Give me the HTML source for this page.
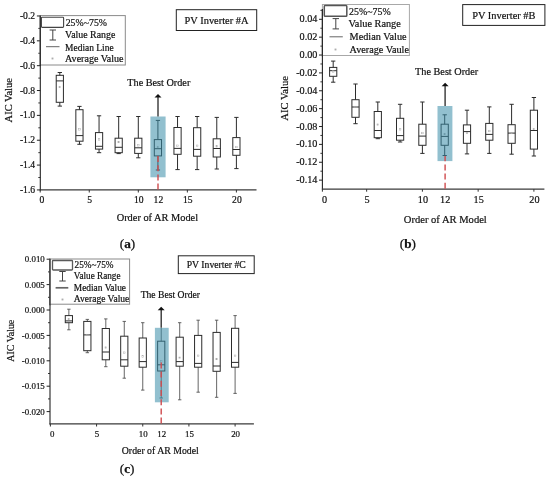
<!DOCTYPE html>
<html><head><meta charset="utf-8"><title>AIC Value vs Order of AR Model</title>
<style>
html,body{margin:0;padding:0;background:#fff;}
body{width:550px;height:483px;overflow:hidden;}
svg{display:block;font-family:"Liberation Serif", "Times New Roman", serif;}
</style></head><body>
<svg width="550" height="483" viewBox="0 0 550 483">
<rect x="0" y="0" width="550" height="483" fill="#fff"/>
<line x1="40.30" y1="15.48" x2="40.30" y2="190.40" stroke="#222" stroke-width="1.1" />
<line x1="39.80" y1="189.90" x2="256.50" y2="189.90" stroke="#3a3a3a" stroke-width="1.1" />
<line x1="36.90" y1="15.98" x2="40.30" y2="15.98" stroke="#222" stroke-width="1" />
<text x="35.10" y="19.08" font-size="9.6" text-anchor="end" fill="#111" stroke="#111" stroke-width="0.2" >-0.2</text>
<line x1="36.90" y1="40.83" x2="40.30" y2="40.83" stroke="#222" stroke-width="1" />
<text x="35.10" y="43.93" font-size="9.6" text-anchor="end" fill="#111" stroke="#111" stroke-width="0.2" >-0.4</text>
<line x1="36.90" y1="65.68" x2="40.30" y2="65.68" stroke="#222" stroke-width="1" />
<text x="35.10" y="68.78" font-size="9.6" text-anchor="end" fill="#111" stroke="#111" stroke-width="0.2" >-0.6</text>
<line x1="36.90" y1="90.53" x2="40.30" y2="90.53" stroke="#222" stroke-width="1" />
<text x="35.10" y="93.63" font-size="9.6" text-anchor="end" fill="#111" stroke="#111" stroke-width="0.2" >-0.8</text>
<line x1="36.90" y1="115.38" x2="40.30" y2="115.38" stroke="#222" stroke-width="1" />
<text x="35.10" y="118.48" font-size="9.6" text-anchor="end" fill="#111" stroke="#111" stroke-width="0.2" >-1.0</text>
<line x1="36.90" y1="140.23" x2="40.30" y2="140.23" stroke="#222" stroke-width="1" />
<text x="35.10" y="143.33" font-size="9.6" text-anchor="end" fill="#111" stroke="#111" stroke-width="0.2" >-1.2</text>
<line x1="36.90" y1="165.08" x2="40.30" y2="165.08" stroke="#222" stroke-width="1" />
<text x="35.10" y="168.18" font-size="9.6" text-anchor="end" fill="#111" stroke="#111" stroke-width="0.2" >-1.4</text>
<line x1="36.90" y1="189.93" x2="40.30" y2="189.93" stroke="#222" stroke-width="1" />
<text x="35.10" y="193.03" font-size="9.6" text-anchor="end" fill="#111" stroke="#111" stroke-width="0.2" >-1.6</text>
<line x1="38.30" y1="28.40" x2="40.30" y2="28.40" stroke="#222" stroke-width="0.9" />
<line x1="38.30" y1="53.25" x2="40.30" y2="53.25" stroke="#222" stroke-width="0.9" />
<line x1="38.30" y1="78.10" x2="40.30" y2="78.10" stroke="#222" stroke-width="0.9" />
<line x1="38.30" y1="102.95" x2="40.30" y2="102.95" stroke="#222" stroke-width="0.9" />
<line x1="38.30" y1="127.81" x2="40.30" y2="127.81" stroke="#222" stroke-width="0.9" />
<line x1="38.30" y1="152.66" x2="40.30" y2="152.66" stroke="#222" stroke-width="0.9" />
<line x1="38.30" y1="177.50" x2="40.30" y2="177.50" stroke="#222" stroke-width="0.9" />
<line x1="40.20" y1="189.90" x2="40.20" y2="192.50" stroke="#333" stroke-width="1" />
<text x="41.90" y="202.90" font-size="9.6" text-anchor="middle" fill="#111" stroke="#111" stroke-width="0.2" >0</text>
<line x1="89.25" y1="189.90" x2="89.25" y2="192.50" stroke="#333" stroke-width="1" />
<text x="89.75" y="202.90" font-size="9.6" text-anchor="middle" fill="#111" stroke="#111" stroke-width="0.2" >5</text>
<line x1="138.30" y1="189.90" x2="138.30" y2="192.50" stroke="#333" stroke-width="1" />
<text x="138.80" y="202.90" font-size="9.6" text-anchor="middle" fill="#111" stroke="#111" stroke-width="0.2" >10</text>
<text x="158.42" y="202.90" font-size="9.6" text-anchor="middle" fill="#111" stroke="#111" stroke-width="0.2" >12</text>
<line x1="187.35" y1="189.90" x2="187.35" y2="192.50" stroke="#333" stroke-width="1" />
<text x="187.85" y="202.90" font-size="9.6" text-anchor="middle" fill="#111" stroke="#111" stroke-width="0.2" >15</text>
<line x1="236.40" y1="189.90" x2="236.40" y2="192.50" stroke="#333" stroke-width="1" />
<text x="236.90" y="202.90" font-size="9.6" text-anchor="middle" fill="#111" stroke="#111" stroke-width="0.2" >20</text>
<line x1="59.82" y1="72.50" x2="59.82" y2="75.30" stroke="#2c2c2c" stroke-width="1.0" />
<line x1="59.82" y1="102.30" x2="59.82" y2="106.10" stroke="#2c2c2c" stroke-width="1.0" />
<line x1="57.67" y1="72.50" x2="61.97" y2="72.50" stroke="#2c2c2c" stroke-width="1.0" />
<line x1="57.67" y1="106.10" x2="61.97" y2="106.10" stroke="#2c2c2c" stroke-width="1.0" />
<rect x="56.22" y="75.30" width="7.20" height="27.00" fill="none" stroke="#2c2c2c" stroke-width="1.0" />
<line x1="56.22" y1="80.90" x2="63.42" y2="80.90" stroke="#2c2c2c" stroke-width="1.0" />
<rect x="59.02" y="86.20" width="1.60" height="1.60" fill="none" stroke="#a8a8a8" stroke-width="0.45" />
<line x1="79.44" y1="106.40" x2="79.44" y2="109.70" stroke="#2c2c2c" stroke-width="1.0" />
<line x1="79.44" y1="141.20" x2="79.44" y2="144.30" stroke="#2c2c2c" stroke-width="1.0" />
<line x1="77.29" y1="106.40" x2="81.59" y2="106.40" stroke="#2c2c2c" stroke-width="1.0" />
<line x1="77.29" y1="144.30" x2="81.59" y2="144.30" stroke="#2c2c2c" stroke-width="1.0" />
<rect x="75.84" y="109.70" width="7.20" height="31.50" fill="none" stroke="#2c2c2c" stroke-width="1.0" />
<line x1="75.84" y1="135.60" x2="83.04" y2="135.60" stroke="#2c2c2c" stroke-width="1.0" />
<rect x="78.64" y="128.50" width="1.60" height="1.60" fill="none" stroke="#a8a8a8" stroke-width="0.45" />
<line x1="99.06" y1="115.80" x2="99.06" y2="132.60" stroke="#2c2c2c" stroke-width="1.0" />
<line x1="99.06" y1="149.10" x2="99.06" y2="152.70" stroke="#2c2c2c" stroke-width="1.0" />
<line x1="96.91" y1="115.80" x2="101.21" y2="115.80" stroke="#2c2c2c" stroke-width="1.0" />
<line x1="96.91" y1="152.70" x2="101.21" y2="152.70" stroke="#2c2c2c" stroke-width="1.0" />
<rect x="95.46" y="132.60" width="7.20" height="16.50" fill="none" stroke="#2c2c2c" stroke-width="1.0" />
<line x1="95.46" y1="146.30" x2="102.66" y2="146.30" stroke="#2c2c2c" stroke-width="1.0" />
<rect x="98.26" y="138.60" width="1.60" height="1.60" fill="none" stroke="#a8a8a8" stroke-width="0.45" />
<line x1="118.68" y1="116.50" x2="118.68" y2="138.20" stroke="#2c2c2c" stroke-width="1.0" />
<line x1="118.68" y1="152.70" x2="118.68" y2="153.60" stroke="#2c2c2c" stroke-width="1.0" />
<line x1="116.53" y1="116.50" x2="120.83" y2="116.50" stroke="#2c2c2c" stroke-width="1.0" />
<line x1="116.53" y1="153.60" x2="120.83" y2="153.60" stroke="#2c2c2c" stroke-width="1.0" />
<rect x="115.08" y="138.20" width="7.20" height="14.50" fill="none" stroke="#2c2c2c" stroke-width="1.0" />
<line x1="115.08" y1="147.30" x2="122.28" y2="147.30" stroke="#2c2c2c" stroke-width="1.0" />
<rect x="117.88" y="141.20" width="1.60" height="1.60" fill="none" stroke="#a8a8a8" stroke-width="0.45" />
<line x1="138.30" y1="116.50" x2="138.30" y2="138.20" stroke="#2c2c2c" stroke-width="1.0" />
<line x1="138.30" y1="153.40" x2="138.30" y2="157.80" stroke="#2c2c2c" stroke-width="1.0" />
<line x1="136.15" y1="116.50" x2="140.45" y2="116.50" stroke="#2c2c2c" stroke-width="1.0" />
<line x1="136.15" y1="157.80" x2="140.45" y2="157.80" stroke="#2c2c2c" stroke-width="1.0" />
<rect x="134.70" y="138.20" width="7.20" height="15.20" fill="none" stroke="#2c2c2c" stroke-width="1.0" />
<line x1="134.70" y1="147.80" x2="141.90" y2="147.80" stroke="#2c2c2c" stroke-width="1.0" />
<rect x="137.50" y="144.50" width="1.60" height="1.60" fill="none" stroke="#a8a8a8" stroke-width="0.45" />
<line x1="157.92" y1="120.40" x2="157.92" y2="139.60" stroke="#2c2c2c" stroke-width="1.0" />
<line x1="157.92" y1="155.90" x2="157.92" y2="170.00" stroke="#2c2c2c" stroke-width="1.0" />
<line x1="155.77" y1="120.40" x2="160.07" y2="120.40" stroke="#2c2c2c" stroke-width="1.0" />
<line x1="155.77" y1="170.00" x2="160.07" y2="170.00" stroke="#2c2c2c" stroke-width="1.0" />
<rect x="154.32" y="139.60" width="7.20" height="16.30" fill="none" stroke="#2c2c2c" stroke-width="1.0" />
<line x1="154.32" y1="148.70" x2="161.52" y2="148.70" stroke="#2c2c2c" stroke-width="1.0" />
<rect x="157.12" y="146.20" width="1.60" height="1.60" fill="none" stroke="#a8a8a8" stroke-width="0.45" />
<line x1="177.54" y1="116.50" x2="177.54" y2="127.50" stroke="#2c2c2c" stroke-width="1.0" />
<line x1="177.54" y1="154.30" x2="177.54" y2="169.60" stroke="#2c2c2c" stroke-width="1.0" />
<line x1="175.39" y1="116.50" x2="179.69" y2="116.50" stroke="#2c2c2c" stroke-width="1.0" />
<line x1="175.39" y1="169.60" x2="179.69" y2="169.60" stroke="#2c2c2c" stroke-width="1.0" />
<rect x="173.94" y="127.50" width="7.20" height="26.80" fill="none" stroke="#2c2c2c" stroke-width="1.0" />
<line x1="173.94" y1="148.40" x2="181.14" y2="148.40" stroke="#2c2c2c" stroke-width="1.0" />
<rect x="176.74" y="145.00" width="1.60" height="1.60" fill="none" stroke="#a8a8a8" stroke-width="0.45" />
<line x1="197.16" y1="116.50" x2="197.16" y2="127.70" stroke="#2c2c2c" stroke-width="1.0" />
<line x1="197.16" y1="156.20" x2="197.16" y2="169.60" stroke="#2c2c2c" stroke-width="1.0" />
<line x1="195.01" y1="116.50" x2="199.31" y2="116.50" stroke="#2c2c2c" stroke-width="1.0" />
<line x1="195.01" y1="169.60" x2="199.31" y2="169.60" stroke="#2c2c2c" stroke-width="1.0" />
<rect x="193.56" y="127.70" width="7.20" height="28.50" fill="none" stroke="#2c2c2c" stroke-width="1.0" />
<line x1="193.56" y1="149.40" x2="200.76" y2="149.40" stroke="#2c2c2c" stroke-width="1.0" />
<rect x="196.36" y="145.00" width="1.60" height="1.60" fill="none" stroke="#a8a8a8" stroke-width="0.45" />
<line x1="216.78" y1="117.40" x2="216.78" y2="138.80" stroke="#2c2c2c" stroke-width="1.0" />
<line x1="216.78" y1="157.00" x2="216.78" y2="169.00" stroke="#2c2c2c" stroke-width="1.0" />
<line x1="214.63" y1="117.40" x2="218.93" y2="117.40" stroke="#2c2c2c" stroke-width="1.0" />
<line x1="214.63" y1="169.00" x2="218.93" y2="169.00" stroke="#2c2c2c" stroke-width="1.0" />
<rect x="213.18" y="138.80" width="7.20" height="18.20" fill="none" stroke="#2c2c2c" stroke-width="1.0" />
<line x1="213.18" y1="148.50" x2="220.38" y2="148.50" stroke="#2c2c2c" stroke-width="1.0" />
<rect x="215.98" y="145.50" width="1.60" height="1.60" fill="none" stroke="#a8a8a8" stroke-width="0.45" />
<line x1="236.40" y1="117.40" x2="236.40" y2="137.60" stroke="#2c2c2c" stroke-width="1.0" />
<line x1="236.40" y1="155.30" x2="236.40" y2="168.60" stroke="#2c2c2c" stroke-width="1.0" />
<line x1="234.25" y1="117.40" x2="238.55" y2="117.40" stroke="#2c2c2c" stroke-width="1.0" />
<line x1="234.25" y1="168.60" x2="238.55" y2="168.60" stroke="#2c2c2c" stroke-width="1.0" />
<rect x="232.80" y="137.60" width="7.20" height="17.70" fill="none" stroke="#2c2c2c" stroke-width="1.0" />
<line x1="232.80" y1="149.50" x2="240.00" y2="149.50" stroke="#2c2c2c" stroke-width="1.0" />
<rect x="235.60" y="146.20" width="1.60" height="1.60" fill="none" stroke="#a8a8a8" stroke-width="0.45" />
<rect x="150.40" y="116.50" width="15.20" height="60.80" fill="rgb(57,140,168)" fill-opacity="0.55"/>
<line x1="158.00" y1="189.60" x2="158.00" y2="156.00" stroke="#cf4b4e" stroke-width="1.4" stroke-dasharray="6 3.2"/>
<line x1="158.00" y1="95.90" x2="158.00" y2="116.50" stroke="#2e2e2e" stroke-width="1.35" />
<polygon points="158.00,93.90 154.50,97.50 161.50,97.50" fill="#111"/>
<text x="127.30" y="86.00" font-size="10.2" text-anchor="start" fill="#111" stroke="#111" stroke-width="0.2" textLength="63" lengthAdjust="spacingAndGlyphs">The Best Order</text>
<rect x="176.30" y="9.70" width="80.40" height="20.80" fill="#fff" stroke="#222" stroke-width="1" />
<text x="216.50" y="23.60" font-size="10.4" text-anchor="middle" fill="#111" stroke="#111" stroke-width="0.2" >PV Inverter #A</text>
<rect x="40.30" y="15.60" width="85.00" height="49.40" fill="#fff" stroke="#8a8a8a" stroke-width="1" />
<line x1="40.30" y1="15.60" x2="40.30" y2="66.00" stroke="#222" stroke-width="1.1" />
<rect x="41.40" y="17.20" width="22.20" height="10.20" fill="#fff" stroke="#444" stroke-width="1.1" rx="0.8"/>
<line x1="52.80" y1="30.00" x2="52.80" y2="40.00" stroke="#444" stroke-width="1" />
<line x1="49.60" y1="30.00" x2="56.00" y2="30.00" stroke="#444" stroke-width="1" />
<line x1="49.60" y1="40.00" x2="56.00" y2="40.00" stroke="#444" stroke-width="1" />
<line x1="46.00" y1="46.70" x2="59.50" y2="46.70" stroke="#666" stroke-width="1" />
<rect x="51.80" y="57.80" width="1.40" height="1.40" fill="none" stroke="#aaa" stroke-width="0.45" />
<text x="65.70" y="25.50" font-size="9.7" text-anchor="start" fill="#111" stroke="#111" stroke-width="0.2" textLength="41.3" lengthAdjust="spacingAndGlyphs">25%~75%</text>
<text x="65.10" y="38.30" font-size="9.7" text-anchor="start" fill="#111" stroke="#111" stroke-width="0.2" textLength="50.2" lengthAdjust="spacingAndGlyphs">Value Range</text>
<text x="65.10" y="51.20" font-size="9.7" text-anchor="start" fill="#111" stroke="#111" stroke-width="0.2" textLength="48.5" lengthAdjust="spacingAndGlyphs">Median Line</text>
<text x="65.10" y="62.40" font-size="9.7" text-anchor="start" fill="#111" stroke="#111" stroke-width="0.2" textLength="58.5" lengthAdjust="spacingAndGlyphs">Average Value</text>
<text transform="translate(12.10,100.30) rotate(-90)" font-size="10.3" text-anchor="middle" fill="#111" stroke="#111" stroke-width="0.2" textLength="44.2" lengthAdjust="spacingAndGlyphs">AIC Value</text>
<text x="116.70" y="220.90" font-size="10.3" text-anchor="start" fill="#111" stroke="#111" stroke-width="0.2" textLength="81.4" lengthAdjust="spacingAndGlyphs">Order of AR Model</text>
<text x="119.80" y="248.30" font-size="13.2" fill="#111" stroke="#111" stroke-width="0.25" font-family='"Liberation Serif", serif'>(<tspan font-weight="bold">a</tspan>)</text>
<line x1="322.40" y1="8.90" x2="322.40" y2="189.60" stroke="#222" stroke-width="1.1" />
<line x1="321.90" y1="189.10" x2="544.40" y2="189.10" stroke="#3a3a3a" stroke-width="1.1" />
<line x1="319.00" y1="19.30" x2="322.40" y2="19.30" stroke="#222" stroke-width="1" />
<text x="317.40" y="22.40" font-size="10.2" text-anchor="end" fill="#111" stroke="#111" stroke-width="0.2" >0.04</text>
<line x1="319.00" y1="37.17" x2="322.40" y2="37.17" stroke="#222" stroke-width="1" />
<text x="317.40" y="40.27" font-size="10.2" text-anchor="end" fill="#111" stroke="#111" stroke-width="0.2" >0.02</text>
<line x1="319.00" y1="55.04" x2="322.40" y2="55.04" stroke="#222" stroke-width="1" />
<text x="317.40" y="58.14" font-size="10.2" text-anchor="end" fill="#111" stroke="#111" stroke-width="0.2" >0.00</text>
<line x1="319.00" y1="72.91" x2="322.40" y2="72.91" stroke="#222" stroke-width="1" />
<text x="317.40" y="76.01" font-size="10.2" text-anchor="end" fill="#111" stroke="#111" stroke-width="0.2" >-0.02</text>
<line x1="319.00" y1="90.78" x2="322.40" y2="90.78" stroke="#222" stroke-width="1" />
<text x="317.40" y="93.88" font-size="10.2" text-anchor="end" fill="#111" stroke="#111" stroke-width="0.2" >-0.04</text>
<line x1="319.00" y1="108.65" x2="322.40" y2="108.65" stroke="#222" stroke-width="1" />
<text x="317.40" y="111.75" font-size="10.2" text-anchor="end" fill="#111" stroke="#111" stroke-width="0.2" >-0.06</text>
<line x1="319.00" y1="126.52" x2="322.40" y2="126.52" stroke="#222" stroke-width="1" />
<text x="317.40" y="129.62" font-size="10.2" text-anchor="end" fill="#111" stroke="#111" stroke-width="0.2" >-0.08</text>
<line x1="319.00" y1="144.39" x2="322.40" y2="144.39" stroke="#222" stroke-width="1" />
<text x="317.40" y="147.49" font-size="10.2" text-anchor="end" fill="#111" stroke="#111" stroke-width="0.2" >-0.10</text>
<line x1="319.00" y1="162.26" x2="322.40" y2="162.26" stroke="#222" stroke-width="1" />
<text x="317.40" y="165.36" font-size="10.2" text-anchor="end" fill="#111" stroke="#111" stroke-width="0.2" >-0.12</text>
<line x1="319.00" y1="180.13" x2="322.40" y2="180.13" stroke="#222" stroke-width="1" />
<text x="317.40" y="183.23" font-size="10.2" text-anchor="end" fill="#111" stroke="#111" stroke-width="0.2" >-0.14</text>
<line x1="320.40" y1="10.36" x2="322.40" y2="10.36" stroke="#222" stroke-width="0.9" />
<line x1="320.40" y1="28.24" x2="322.40" y2="28.24" stroke="#222" stroke-width="0.9" />
<line x1="320.40" y1="46.11" x2="322.40" y2="46.11" stroke="#222" stroke-width="0.9" />
<line x1="320.40" y1="63.98" x2="322.40" y2="63.98" stroke="#222" stroke-width="0.9" />
<line x1="320.40" y1="81.85" x2="322.40" y2="81.85" stroke="#222" stroke-width="0.9" />
<line x1="320.40" y1="99.72" x2="322.40" y2="99.72" stroke="#222" stroke-width="0.9" />
<line x1="320.40" y1="117.59" x2="322.40" y2="117.59" stroke="#222" stroke-width="0.9" />
<line x1="320.40" y1="135.46" x2="322.40" y2="135.46" stroke="#222" stroke-width="0.9" />
<line x1="320.40" y1="153.33" x2="322.40" y2="153.33" stroke="#222" stroke-width="0.9" />
<line x1="320.40" y1="171.20" x2="322.40" y2="171.20" stroke="#222" stroke-width="0.9" />
<line x1="322.40" y1="189.10" x2="322.40" y2="191.70" stroke="#333" stroke-width="1" />
<text x="324.50" y="203.00" font-size="10.2" text-anchor="middle" fill="#111" stroke="#111" stroke-width="0.2" >0</text>
<line x1="366.65" y1="189.10" x2="366.65" y2="191.70" stroke="#333" stroke-width="1" />
<text x="367.15" y="203.00" font-size="10.2" text-anchor="middle" fill="#111" stroke="#111" stroke-width="0.2" >5</text>
<line x1="422.40" y1="189.10" x2="422.40" y2="191.70" stroke="#333" stroke-width="1" />
<text x="422.90" y="203.00" font-size="10.2" text-anchor="middle" fill="#111" stroke="#111" stroke-width="0.2" >10</text>
<text x="445.20" y="203.00" font-size="10.2" text-anchor="middle" fill="#111" stroke="#111" stroke-width="0.2" >12</text>
<line x1="478.15" y1="189.10" x2="478.15" y2="191.70" stroke="#333" stroke-width="1" />
<text x="478.65" y="203.00" font-size="10.2" text-anchor="middle" fill="#111" stroke="#111" stroke-width="0.2" >15</text>
<line x1="533.90" y1="189.10" x2="533.90" y2="191.70" stroke="#333" stroke-width="1" />
<text x="534.40" y="203.00" font-size="10.2" text-anchor="middle" fill="#111" stroke="#111" stroke-width="0.2" >20</text>
<line x1="333.20" y1="61.10" x2="333.20" y2="67.40" stroke="#2c2c2c" stroke-width="1.0" />
<line x1="333.20" y1="76.30" x2="333.20" y2="82.20" stroke="#2c2c2c" stroke-width="1.0" />
<line x1="331.05" y1="61.10" x2="335.35" y2="61.10" stroke="#2c2c2c" stroke-width="1.0" />
<line x1="331.05" y1="82.20" x2="335.35" y2="82.20" stroke="#2c2c2c" stroke-width="1.0" />
<rect x="329.60" y="67.40" width="7.20" height="8.90" fill="none" stroke="#2c2c2c" stroke-width="1.0" />
<line x1="329.60" y1="70.70" x2="336.80" y2="70.70" stroke="#2c2c2c" stroke-width="1.0" />
<rect x="332.40" y="70.70" width="1.60" height="1.60" fill="none" stroke="#a8a8a8" stroke-width="0.45" />
<line x1="355.50" y1="84.00" x2="355.50" y2="99.70" stroke="#2c2c2c" stroke-width="1.0" />
<line x1="355.50" y1="117.30" x2="355.50" y2="123.70" stroke="#2c2c2c" stroke-width="1.0" />
<line x1="353.35" y1="84.00" x2="357.65" y2="84.00" stroke="#2c2c2c" stroke-width="1.0" />
<line x1="353.35" y1="123.70" x2="357.65" y2="123.70" stroke="#2c2c2c" stroke-width="1.0" />
<rect x="351.90" y="99.70" width="7.20" height="17.60" fill="none" stroke="#2c2c2c" stroke-width="1.0" />
<line x1="351.90" y1="107.00" x2="359.10" y2="107.00" stroke="#2c2c2c" stroke-width="1.0" />
<rect x="354.70" y="106.20" width="1.60" height="1.60" fill="none" stroke="#a8a8a8" stroke-width="0.45" />
<line x1="377.80" y1="102.00" x2="377.80" y2="111.50" stroke="#2c2c2c" stroke-width="1.0" />
<line x1="377.80" y1="137.70" x2="377.80" y2="138.70" stroke="#2c2c2c" stroke-width="1.0" />
<line x1="375.65" y1="102.00" x2="379.95" y2="102.00" stroke="#2c2c2c" stroke-width="1.0" />
<line x1="375.65" y1="138.70" x2="379.95" y2="138.70" stroke="#2c2c2c" stroke-width="1.0" />
<rect x="374.20" y="111.50" width="7.20" height="26.20" fill="none" stroke="#2c2c2c" stroke-width="1.0" />
<line x1="374.20" y1="130.50" x2="381.40" y2="130.50" stroke="#2c2c2c" stroke-width="1.0" />
<rect x="377.00" y="123.90" width="1.60" height="1.60" fill="none" stroke="#a8a8a8" stroke-width="0.45" />
<line x1="400.10" y1="104.30" x2="400.10" y2="118.30" stroke="#2c2c2c" stroke-width="1.0" />
<line x1="400.10" y1="140.20" x2="400.10" y2="142.00" stroke="#2c2c2c" stroke-width="1.0" />
<line x1="397.95" y1="104.30" x2="402.25" y2="104.30" stroke="#2c2c2c" stroke-width="1.0" />
<line x1="397.95" y1="142.00" x2="402.25" y2="142.00" stroke="#2c2c2c" stroke-width="1.0" />
<rect x="396.50" y="118.30" width="7.20" height="21.90" fill="none" stroke="#2c2c2c" stroke-width="1.0" />
<line x1="396.50" y1="135.60" x2="403.70" y2="135.60" stroke="#2c2c2c" stroke-width="1.0" />
<rect x="399.30" y="128.50" width="1.60" height="1.60" fill="none" stroke="#a8a8a8" stroke-width="0.45" />
<line x1="422.40" y1="102.00" x2="422.40" y2="124.20" stroke="#2c2c2c" stroke-width="1.0" />
<line x1="422.40" y1="145.30" x2="422.40" y2="153.40" stroke="#2c2c2c" stroke-width="1.0" />
<line x1="420.25" y1="102.00" x2="424.55" y2="102.00" stroke="#2c2c2c" stroke-width="1.0" />
<line x1="420.25" y1="153.40" x2="424.55" y2="153.40" stroke="#2c2c2c" stroke-width="1.0" />
<rect x="418.80" y="124.20" width="7.20" height="21.10" fill="none" stroke="#2c2c2c" stroke-width="1.0" />
<line x1="418.80" y1="136.10" x2="426.00" y2="136.10" stroke="#2c2c2c" stroke-width="1.0" />
<rect x="421.60" y="132.20" width="1.60" height="1.60" fill="none" stroke="#a8a8a8" stroke-width="0.45" />
<line x1="444.70" y1="114.80" x2="444.70" y2="124.20" stroke="#2c2c2c" stroke-width="1.0" />
<line x1="444.70" y1="145.30" x2="444.70" y2="155.50" stroke="#2c2c2c" stroke-width="1.0" />
<line x1="442.55" y1="114.80" x2="446.85" y2="114.80" stroke="#2c2c2c" stroke-width="1.0" />
<line x1="442.55" y1="155.50" x2="446.85" y2="155.50" stroke="#2c2c2c" stroke-width="1.0" />
<rect x="441.10" y="124.20" width="7.20" height="21.10" fill="none" stroke="#2c2c2c" stroke-width="1.0" />
<line x1="441.10" y1="136.40" x2="448.30" y2="136.40" stroke="#2c2c2c" stroke-width="1.0" />
<rect x="443.90" y="133.20" width="1.60" height="1.60" fill="none" stroke="#a8a8a8" stroke-width="0.45" />
<line x1="467.00" y1="110.20" x2="467.00" y2="124.90" stroke="#2c2c2c" stroke-width="1.0" />
<line x1="467.00" y1="143.30" x2="467.00" y2="153.90" stroke="#2c2c2c" stroke-width="1.0" />
<line x1="464.85" y1="110.20" x2="469.15" y2="110.20" stroke="#2c2c2c" stroke-width="1.0" />
<line x1="464.85" y1="153.90" x2="469.15" y2="153.90" stroke="#2c2c2c" stroke-width="1.0" />
<rect x="463.40" y="124.90" width="7.20" height="18.40" fill="none" stroke="#2c2c2c" stroke-width="1.0" />
<line x1="463.40" y1="131.60" x2="470.60" y2="131.60" stroke="#2c2c2c" stroke-width="1.0" />
<rect x="466.20" y="132.20" width="1.60" height="1.60" fill="none" stroke="#a8a8a8" stroke-width="0.45" />
<line x1="489.30" y1="106.90" x2="489.30" y2="123.40" stroke="#2c2c2c" stroke-width="1.0" />
<line x1="489.30" y1="140.20" x2="489.30" y2="153.40" stroke="#2c2c2c" stroke-width="1.0" />
<line x1="487.15" y1="106.90" x2="491.45" y2="106.90" stroke="#2c2c2c" stroke-width="1.0" />
<line x1="487.15" y1="153.40" x2="491.45" y2="153.40" stroke="#2c2c2c" stroke-width="1.0" />
<rect x="485.70" y="123.40" width="7.20" height="16.80" fill="none" stroke="#2c2c2c" stroke-width="1.0" />
<line x1="485.70" y1="134.40" x2="492.90" y2="134.40" stroke="#2c2c2c" stroke-width="1.0" />
<rect x="488.50" y="130.20" width="1.60" height="1.60" fill="none" stroke="#a8a8a8" stroke-width="0.45" />
<line x1="511.60" y1="104.30" x2="511.60" y2="124.70" stroke="#2c2c2c" stroke-width="1.0" />
<line x1="511.60" y1="143.30" x2="511.60" y2="154.20" stroke="#2c2c2c" stroke-width="1.0" />
<line x1="509.45" y1="104.30" x2="513.75" y2="104.30" stroke="#2c2c2c" stroke-width="1.0" />
<line x1="509.45" y1="154.20" x2="513.75" y2="154.20" stroke="#2c2c2c" stroke-width="1.0" />
<rect x="508.00" y="124.70" width="7.20" height="18.60" fill="none" stroke="#2c2c2c" stroke-width="1.0" />
<line x1="508.00" y1="133.10" x2="515.20" y2="133.10" stroke="#2c2c2c" stroke-width="1.0" />
<rect x="510.80" y="132.20" width="1.60" height="1.60" fill="none" stroke="#a8a8a8" stroke-width="0.45" />
<line x1="533.90" y1="97.50" x2="533.90" y2="110.20" stroke="#2c2c2c" stroke-width="1.0" />
<line x1="533.90" y1="149.10" x2="533.90" y2="156.00" stroke="#2c2c2c" stroke-width="1.0" />
<line x1="531.75" y1="97.50" x2="536.05" y2="97.50" stroke="#2c2c2c" stroke-width="1.0" />
<line x1="531.75" y1="156.00" x2="536.05" y2="156.00" stroke="#2c2c2c" stroke-width="1.0" />
<rect x="530.30" y="110.20" width="7.20" height="38.90" fill="none" stroke="#2c2c2c" stroke-width="1.0" />
<line x1="530.30" y1="130.50" x2="537.50" y2="130.50" stroke="#2c2c2c" stroke-width="1.0" />
<rect x="533.10" y="128.20" width="1.60" height="1.60" fill="none" stroke="#a8a8a8" stroke-width="0.45" />
<rect x="437.50" y="106.00" width="14.90" height="55.10" fill="rgb(57,140,168)" fill-opacity="0.55"/>
<line x1="445.10" y1="188.80" x2="445.10" y2="156.00" stroke="#cf4b4e" stroke-width="1.4" stroke-dasharray="6 3.2"/>
<line x1="445.10" y1="84.70" x2="445.10" y2="106.00" stroke="#2e2e2e" stroke-width="1.35" />
<polygon points="445.10,82.70 441.60,86.30 448.60,86.30" fill="#111"/>
<text x="415.00" y="74.90" font-size="10.2" text-anchor="start" fill="#111" stroke="#111" stroke-width="0.2" textLength="63.2" lengthAdjust="spacingAndGlyphs">The Best Order</text>
<rect x="462.70" y="4.60" width="82.20" height="20.80" fill="#fff" stroke="#222" stroke-width="1" />
<text x="503.80" y="18.50" font-size="10.4" text-anchor="middle" fill="#111" stroke="#111" stroke-width="0.2" >PV Inverter #B</text>
<rect x="322.40" y="4.50" width="87.00" height="51.00" fill="#fff" stroke="#a8a8a8" stroke-width="1" />
<line x1="322.40" y1="8.90" x2="322.40" y2="56.50" stroke="#222" stroke-width="1.1" />
<rect x="324.30" y="5.60" width="22.50" height="10.70" fill="#fff" stroke="#555" stroke-width="1.5" rx="0.8"/>
<line x1="335.80" y1="18.60" x2="335.80" y2="28.90" stroke="#444" stroke-width="1" />
<line x1="332.60" y1="18.60" x2="339.00" y2="18.60" stroke="#444" stroke-width="1" />
<line x1="332.60" y1="28.90" x2="339.00" y2="28.90" stroke="#444" stroke-width="1" />
<line x1="329.50" y1="36.80" x2="342.80" y2="36.80" stroke="#666" stroke-width="1" />
<rect x="334.80" y="48.80" width="1.40" height="1.40" fill="none" stroke="#aaa" stroke-width="0.45" />
<text x="349.10" y="15.10" font-size="10.1" text-anchor="start" fill="#111" stroke="#111" stroke-width="0.2" textLength="41.6" lengthAdjust="spacingAndGlyphs">25%~75%</text>
<text x="348.60" y="26.90" font-size="10.1" text-anchor="start" fill="#111" stroke="#111" stroke-width="0.2" textLength="52.2" lengthAdjust="spacingAndGlyphs">Value Range</text>
<text x="349.60" y="39.80" font-size="10.1" text-anchor="start" fill="#111" stroke="#111" stroke-width="0.2" textLength="57.0" lengthAdjust="spacingAndGlyphs">Median Value</text>
<text x="349.60" y="52.80" font-size="10.1" text-anchor="start" fill="#111" stroke="#111" stroke-width="0.2" textLength="59.4" lengthAdjust="spacingAndGlyphs">Average Vaule</text>
<text transform="translate(287.50,98.40) rotate(-90)" font-size="10.3" text-anchor="middle" fill="#111" stroke="#111" stroke-width="0.2" textLength="44.7" lengthAdjust="spacingAndGlyphs">AIC Value</text>
<text x="403.80" y="223.30" font-size="10.5" text-anchor="start" fill="#111" stroke="#111" stroke-width="0.2" textLength="83" lengthAdjust="spacingAndGlyphs">Order of AR Model</text>
<text x="399.80" y="248.30" font-size="13.2" fill="#111" stroke="#111" stroke-width="0.25" font-family='"Liberation Serif", serif'>(<tspan font-weight="bold">b</tspan>)</text>
<line x1="50.00" y1="258.60" x2="50.00" y2="424.40" stroke="#222" stroke-width="1.1" />
<line x1="49.50" y1="423.90" x2="253.90" y2="423.90" stroke="#3a3a3a" stroke-width="1.1" />
<line x1="46.60" y1="259.20" x2="50.00" y2="259.20" stroke="#222" stroke-width="1" />
<text x="44.80" y="262.30" font-size="8.9" text-anchor="end" fill="#111" stroke="#111" stroke-width="0.2" >0.010</text>
<line x1="46.60" y1="284.60" x2="50.00" y2="284.60" stroke="#222" stroke-width="1" />
<text x="44.80" y="287.70" font-size="8.9" text-anchor="end" fill="#111" stroke="#111" stroke-width="0.2" >0.005</text>
<line x1="46.60" y1="310.00" x2="50.00" y2="310.00" stroke="#222" stroke-width="1" />
<text x="44.80" y="313.10" font-size="8.9" text-anchor="end" fill="#111" stroke="#111" stroke-width="0.2" >0.000</text>
<line x1="46.60" y1="335.40" x2="50.00" y2="335.40" stroke="#222" stroke-width="1" />
<text x="44.80" y="338.50" font-size="8.9" text-anchor="end" fill="#111" stroke="#111" stroke-width="0.2" >-0.005</text>
<line x1="46.60" y1="360.80" x2="50.00" y2="360.80" stroke="#222" stroke-width="1" />
<text x="44.80" y="363.90" font-size="8.9" text-anchor="end" fill="#111" stroke="#111" stroke-width="0.2" >-0.010</text>
<line x1="46.60" y1="386.20" x2="50.00" y2="386.20" stroke="#222" stroke-width="1" />
<text x="44.80" y="389.30" font-size="8.9" text-anchor="end" fill="#111" stroke="#111" stroke-width="0.2" >-0.015</text>
<line x1="46.60" y1="411.60" x2="50.00" y2="411.60" stroke="#222" stroke-width="1" />
<text x="44.80" y="414.70" font-size="8.9" text-anchor="end" fill="#111" stroke="#111" stroke-width="0.2" >-0.020</text>
<line x1="48.00" y1="271.90" x2="50.00" y2="271.90" stroke="#222" stroke-width="0.9" />
<line x1="48.00" y1="297.30" x2="50.00" y2="297.30" stroke="#222" stroke-width="0.9" />
<line x1="48.00" y1="322.70" x2="50.00" y2="322.70" stroke="#222" stroke-width="0.9" />
<line x1="48.00" y1="348.10" x2="50.00" y2="348.10" stroke="#222" stroke-width="0.9" />
<line x1="48.00" y1="373.50" x2="50.00" y2="373.50" stroke="#222" stroke-width="0.9" />
<line x1="48.00" y1="398.90" x2="50.00" y2="398.90" stroke="#222" stroke-width="0.9" />
<line x1="50.40" y1="423.90" x2="50.40" y2="426.50" stroke="#333" stroke-width="1" />
<text x="52.10" y="436.70" font-size="8.9" text-anchor="middle" fill="#111" stroke="#111" stroke-width="0.2" >0</text>
<line x1="96.57" y1="423.90" x2="96.57" y2="426.50" stroke="#333" stroke-width="1" />
<text x="97.07" y="436.70" font-size="8.9" text-anchor="middle" fill="#111" stroke="#111" stroke-width="0.2" >5</text>
<line x1="142.75" y1="423.90" x2="142.75" y2="426.50" stroke="#333" stroke-width="1" />
<text x="143.25" y="436.70" font-size="8.9" text-anchor="middle" fill="#111" stroke="#111" stroke-width="0.2" >10</text>
<text x="161.72" y="436.70" font-size="8.9" text-anchor="middle" fill="#111" stroke="#111" stroke-width="0.2" >12</text>
<line x1="188.92" y1="423.90" x2="188.92" y2="426.50" stroke="#333" stroke-width="1" />
<text x="189.42" y="436.70" font-size="8.9" text-anchor="middle" fill="#111" stroke="#111" stroke-width="0.2" >15</text>
<line x1="235.10" y1="423.90" x2="235.10" y2="426.50" stroke="#333" stroke-width="1" />
<text x="235.60" y="436.70" font-size="8.9" text-anchor="middle" fill="#111" stroke="#111" stroke-width="0.2" >20</text>
<line x1="68.87" y1="309.20" x2="68.87" y2="315.60" stroke="#4a4a4a" stroke-width="0.85" />
<line x1="68.87" y1="322.70" x2="68.87" y2="329.80" stroke="#4a4a4a" stroke-width="0.85" />
<line x1="67.17" y1="309.20" x2="70.57" y2="309.20" stroke="#4a4a4a" stroke-width="0.85" />
<line x1="67.17" y1="329.80" x2="70.57" y2="329.80" stroke="#4a4a4a" stroke-width="0.85" />
<rect x="65.27" y="315.60" width="7.20" height="7.10" fill="none" stroke="#2c2c2c" stroke-width="1.0" />
<line x1="65.27" y1="320.90" x2="72.47" y2="320.90" stroke="#2c2c2c" stroke-width="1.0" />
<rect x="68.07" y="318.20" width="1.60" height="1.60" fill="none" stroke="#a8a8a8" stroke-width="0.45" />
<line x1="87.34" y1="319.40" x2="87.34" y2="321.40" stroke="#4a4a4a" stroke-width="0.85" />
<line x1="87.34" y1="350.70" x2="87.34" y2="352.70" stroke="#4a4a4a" stroke-width="0.85" />
<line x1="85.64" y1="319.40" x2="89.04" y2="319.40" stroke="#4a4a4a" stroke-width="0.85" />
<line x1="85.64" y1="352.70" x2="89.04" y2="352.70" stroke="#4a4a4a" stroke-width="0.85" />
<rect x="83.74" y="321.40" width="7.20" height="29.30" fill="none" stroke="#2c2c2c" stroke-width="1.0" />
<line x1="83.74" y1="334.90" x2="90.94" y2="334.90" stroke="#2c2c2c" stroke-width="1.0" />
<rect x="86.54" y="334.20" width="1.60" height="1.60" fill="none" stroke="#a8a8a8" stroke-width="0.45" />
<line x1="105.81" y1="318.90" x2="105.81" y2="328.50" stroke="#4a4a4a" stroke-width="0.85" />
<line x1="105.81" y1="359.80" x2="105.81" y2="366.70" stroke="#4a4a4a" stroke-width="0.85" />
<line x1="104.11" y1="318.90" x2="107.51" y2="318.90" stroke="#4a4a4a" stroke-width="0.85" />
<line x1="104.11" y1="366.70" x2="107.51" y2="366.70" stroke="#4a4a4a" stroke-width="0.85" />
<rect x="102.21" y="328.50" width="7.20" height="31.30" fill="none" stroke="#2c2c2c" stroke-width="1.0" />
<line x1="102.21" y1="352.00" x2="109.41" y2="352.00" stroke="#2c2c2c" stroke-width="1.0" />
<rect x="105.01" y="346.80" width="1.60" height="1.60" fill="none" stroke="#a8a8a8" stroke-width="0.45" />
<line x1="124.28" y1="321.40" x2="124.28" y2="336.20" stroke="#4a4a4a" stroke-width="0.85" />
<line x1="124.28" y1="366.20" x2="124.28" y2="378.20" stroke="#4a4a4a" stroke-width="0.85" />
<line x1="122.58" y1="321.40" x2="125.98" y2="321.40" stroke="#4a4a4a" stroke-width="0.85" />
<line x1="122.58" y1="378.20" x2="125.98" y2="378.20" stroke="#4a4a4a" stroke-width="0.85" />
<rect x="120.68" y="336.20" width="7.20" height="30.00" fill="none" stroke="#2c2c2c" stroke-width="1.0" />
<line x1="120.68" y1="359.80" x2="127.88" y2="359.80" stroke="#2c2c2c" stroke-width="1.0" />
<rect x="123.48" y="351.90" width="1.60" height="1.60" fill="none" stroke="#a8a8a8" stroke-width="0.45" />
<line x1="142.75" y1="322.70" x2="142.75" y2="338.00" stroke="#4a4a4a" stroke-width="0.85" />
<line x1="142.75" y1="367.20" x2="142.75" y2="390.10" stroke="#4a4a4a" stroke-width="0.85" />
<line x1="141.05" y1="322.70" x2="144.45" y2="322.70" stroke="#4a4a4a" stroke-width="0.85" />
<line x1="141.05" y1="390.10" x2="144.45" y2="390.10" stroke="#4a4a4a" stroke-width="0.85" />
<rect x="139.15" y="338.00" width="7.20" height="29.20" fill="none" stroke="#2c2c2c" stroke-width="1.0" />
<line x1="139.15" y1="361.60" x2="146.35" y2="361.60" stroke="#2c2c2c" stroke-width="1.0" />
<rect x="141.95" y="355.70" width="1.60" height="1.60" fill="none" stroke="#a8a8a8" stroke-width="0.45" />
<line x1="161.22" y1="328.00" x2="161.22" y2="341.20" stroke="#4a4a4a" stroke-width="0.85" />
<line x1="161.22" y1="371.00" x2="161.22" y2="398.00" stroke="#4a4a4a" stroke-width="0.85" />
<line x1="159.52" y1="398.00" x2="162.92" y2="398.00" stroke="#4a4a4a" stroke-width="0.85" />
<rect x="157.62" y="341.20" width="7.20" height="29.80" fill="none" stroke="#2c2c2c" stroke-width="1.0" />
<line x1="157.62" y1="364.80" x2="164.82" y2="364.80" stroke="#2c2c2c" stroke-width="1.0" />
<rect x="160.42" y="360.70" width="1.60" height="1.60" fill="none" stroke="#a8a8a8" stroke-width="0.45" />
<line x1="179.69" y1="322.70" x2="179.69" y2="337.20" stroke="#4a4a4a" stroke-width="0.85" />
<line x1="179.69" y1="366.20" x2="179.69" y2="399.80" stroke="#4a4a4a" stroke-width="0.85" />
<line x1="177.99" y1="322.70" x2="181.39" y2="322.70" stroke="#4a4a4a" stroke-width="0.85" />
<line x1="177.99" y1="399.80" x2="181.39" y2="399.80" stroke="#4a4a4a" stroke-width="0.85" />
<rect x="176.09" y="337.20" width="7.20" height="29.00" fill="none" stroke="#2c2c2c" stroke-width="1.0" />
<line x1="176.09" y1="361.60" x2="183.29" y2="361.60" stroke="#2c2c2c" stroke-width="1.0" />
<rect x="178.89" y="357.00" width="1.60" height="1.60" fill="none" stroke="#a8a8a8" stroke-width="0.45" />
<line x1="198.16" y1="320.20" x2="198.16" y2="335.40" stroke="#4a4a4a" stroke-width="0.85" />
<line x1="198.16" y1="367.20" x2="198.16" y2="392.20" stroke="#4a4a4a" stroke-width="0.85" />
<line x1="196.46" y1="320.20" x2="199.86" y2="320.20" stroke="#4a4a4a" stroke-width="0.85" />
<line x1="196.46" y1="392.20" x2="199.86" y2="392.20" stroke="#4a4a4a" stroke-width="0.85" />
<rect x="194.56" y="335.40" width="7.20" height="31.80" fill="none" stroke="#2c2c2c" stroke-width="1.0" />
<line x1="194.56" y1="363.40" x2="201.76" y2="363.40" stroke="#2c2c2c" stroke-width="1.0" />
<rect x="197.36" y="355.00" width="1.60" height="1.60" fill="none" stroke="#a8a8a8" stroke-width="0.45" />
<line x1="216.63" y1="320.20" x2="216.63" y2="332.40" stroke="#4a4a4a" stroke-width="0.85" />
<line x1="216.63" y1="371.30" x2="216.63" y2="397.30" stroke="#4a4a4a" stroke-width="0.85" />
<line x1="214.93" y1="320.20" x2="218.33" y2="320.20" stroke="#4a4a4a" stroke-width="0.85" />
<line x1="214.93" y1="397.30" x2="218.33" y2="397.30" stroke="#4a4a4a" stroke-width="0.85" />
<rect x="213.03" y="332.40" width="7.20" height="38.90" fill="none" stroke="#2c2c2c" stroke-width="1.0" />
<line x1="213.03" y1="366.00" x2="220.23" y2="366.00" stroke="#2c2c2c" stroke-width="1.0" />
<rect x="215.83" y="358.20" width="1.60" height="1.60" fill="none" stroke="#a8a8a8" stroke-width="0.45" />
<line x1="235.10" y1="315.60" x2="235.10" y2="328.30" stroke="#4a4a4a" stroke-width="0.85" />
<line x1="235.10" y1="367.20" x2="235.10" y2="393.40" stroke="#4a4a4a" stroke-width="0.85" />
<line x1="233.40" y1="315.60" x2="236.80" y2="315.60" stroke="#4a4a4a" stroke-width="0.85" />
<line x1="233.40" y1="393.40" x2="236.80" y2="393.40" stroke="#4a4a4a" stroke-width="0.85" />
<rect x="231.50" y="328.30" width="7.20" height="38.90" fill="none" stroke="#2c2c2c" stroke-width="1.0" />
<line x1="231.50" y1="362.40" x2="238.70" y2="362.40" stroke="#2c2c2c" stroke-width="1.0" />
<rect x="234.30" y="355.00" width="1.60" height="1.60" fill="none" stroke="#a8a8a8" stroke-width="0.45" />
<rect x="154.90" y="327.80" width="13.80" height="74.50" fill="rgb(57,140,168)" fill-opacity="0.55"/>
<line x1="161.20" y1="423.60" x2="161.20" y2="361.60" stroke="#cf4b4e" stroke-width="1.4" stroke-dasharray="6 3.2"/>
<line x1="161.20" y1="308.70" x2="161.20" y2="327.80" stroke="#2e2e2e" stroke-width="1.35" />
<polygon points="161.20,306.70 157.70,310.30 164.70,310.30" fill="#111"/>
<text x="140.70" y="298.00" font-size="9.6" text-anchor="start" fill="#111" stroke="#111" stroke-width="0.2" textLength="59.3" lengthAdjust="spacingAndGlyphs">The Best Order</text>
<rect x="178.30" y="255.80" width="75.90" height="17.80" fill="#fff" stroke="#222" stroke-width="1" />
<text x="216.25" y="268.20" font-size="9.7" text-anchor="middle" fill="#111" stroke="#111" stroke-width="0.2" >PV Inverter #C</text>
<rect x="50.00" y="259.00" width="79.60" height="45.20" fill="#fff" stroke="#8a8a8a" stroke-width="1" />
<line x1="50.00" y1="259.00" x2="50.00" y2="305.20" stroke="#222" stroke-width="1.1" />
<rect x="52.50" y="260.50" width="20.00" height="9.50" fill="#fff" stroke="#5a5a5a" stroke-width="1.3" rx="0.8"/>
<line x1="62.50" y1="271.50" x2="62.50" y2="281.00" stroke="#444" stroke-width="1" />
<line x1="59.30" y1="271.50" x2="65.70" y2="271.50" stroke="#444" stroke-width="1" />
<line x1="59.30" y1="281.00" x2="65.70" y2="281.00" stroke="#444" stroke-width="1" />
<line x1="55.60" y1="287.80" x2="68.30" y2="287.80" stroke="#666" stroke-width="1.7" />
<rect x="61.80" y="298.80" width="1.40" height="1.40" fill="none" stroke="#aaa" stroke-width="0.45" />
<text x="74.50" y="268.00" font-size="9.3" text-anchor="start" fill="#111" stroke="#111" stroke-width="0.2" textLength="39.0" lengthAdjust="spacingAndGlyphs">25%~75%</text>
<text x="73.80" y="279.20" font-size="9.3" text-anchor="start" fill="#111" stroke="#111" stroke-width="0.2" textLength="46.7" lengthAdjust="spacingAndGlyphs">Value Range</text>
<text x="73.80" y="290.60" font-size="9.3" text-anchor="start" fill="#111" stroke="#111" stroke-width="0.2" textLength="52.2" lengthAdjust="spacingAndGlyphs">Median Value</text>
<text x="73.80" y="302.30" font-size="9.3" text-anchor="start" fill="#111" stroke="#111" stroke-width="0.2" textLength="55.5" lengthAdjust="spacingAndGlyphs">Average Value</text>
<text transform="translate(14.00,340.70) rotate(-90)" font-size="9.7" text-anchor="middle" fill="#111" stroke="#111" stroke-width="0.2" textLength="41.9" lengthAdjust="spacingAndGlyphs">AIC Value</text>
<text x="121.80" y="453.50" font-size="9.7" text-anchor="start" fill="#111" stroke="#111" stroke-width="0.2" textLength="77" lengthAdjust="spacingAndGlyphs">Order of AR Model</text>
<text x="119.80" y="473.10" font-size="13.2" fill="#111" stroke="#111" stroke-width="0.25" font-family='"Liberation Serif", serif'>(<tspan font-weight="bold">c</tspan>)</text>
</svg>
</body></html>
